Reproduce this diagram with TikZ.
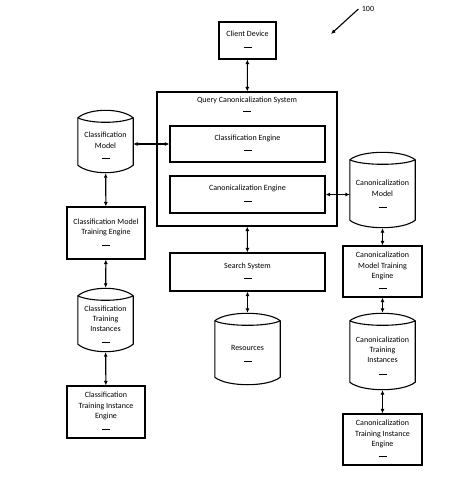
\documentclass[tikz,border=0pt]{standalone}
\usepackage{fontspec}
\setmainfont{Carlito}
\usetikzlibrary{arrows.meta,calc}
\newcommand{\refbar}{\rule[0.6ex]{8pt}{0.6pt}}
\newcommand{\topgap}{\rule{0pt}{16pt}}

\begin{document}
\begin{tikzpicture}[x=1pt, y=-1pt, >={Latex[length=4.5pt,width=4pt]},
    font=\fontsize{8}{10.2}\selectfont,
    box/.style={draw, line width=1.1pt, align=center, inner sep=0pt},
    store/.style={align=center, inner sep=0pt},
    link/.style={<->, line width=1.1pt}]
          \useasboundingbox (0,0) rectangle (474,479);

          % figure number
          \node (fig) at (368,9) {100};
          \coordinate (figtip) at (331,34);
          \draw[->, line width=1.1pt] (fig.west) -- (figtip);

          % middle column
          \node[box, minimum width=57pt, minimum height=37pt] (client) at (247.5,40.5) {Client Device\\[3pt]\refbar};
          \node[box, minimum width=180pt, minimum height=134pt] (qcs) at (247,159) {};
          \node[anchor=north, align=center, inner sep=0pt] (qcstitle) at ($(qcs.north)+(0,5)$) {Query Canonicalization System\\[1pt]\refbar};
          \node[box, minimum width=155pt, minimum height=36pt] (ceng) at (247.5,144) {Classification Engine\\[3pt]\refbar};
          \node[box, minimum width=155pt, minimum height=37pt] (keng) at (247.5,194.5) {Canonicalization Engine\\[3pt]\refbar};
          \node[box, minimum width=155pt, minimum height=38pt] (search) at (247.5,272) {Search System\\[3pt]\refbar};
          \node[store, minimum width=65pt, minimum height=72pt] (res) at (247.5,349) {\topgap Resources\\[3pt]\refbar};

          % left column: classification
          \node[store, minimum width=55pt, minimum height=63pt] (cmodel) at (105.5,141.5) {\topgap Classification\\Model\\[3pt]\refbar};
          \node[box, minimum width=78pt, minimum height=52pt] (cmte) at (106,233) {Classification Model\\Training Engine\\[3pt]\refbar};
          \node[store, minimum width=55pt, minimum height=64pt] (cti) at (105.5,320) {\topgap Classification\\Training\\Instances\\[3pt]\refbar};
          \node[box, minimum width=78pt, minimum height=52pt] (ctie) at (106,412) {Classification\\Training Instance\\Engine\\[3pt]\refbar};

          % right column: canonicalization
          \node[store, minimum width=65pt, minimum height=76pt] (kmodel) at (382.5,190) {\topgap Canonicalization\\Model\\[4pt]\refbar};
          \node[box, minimum width=79pt, minimum height=51pt] (kmte) at (382.5,271.5) {Canonicalization\\Model Training\\Engine\\[2pt]\refbar};
          \node[store, minimum width=65pt, minimum height=77pt] (kti) at (382.5,351.5) {\topgap Canonicalization\\Training\\Instances\\[4pt]\refbar};
          \node[box, minimum width=79pt, minimum height=51pt] (ktie) at (382.5,439.5) {Canonicalization\\Training Instance\\Engine\\[2pt]\refbar};

          % cylinder outlines for the data stores
          \foreach \n in {cmodel,cti,res,kmodel,kti}{
            \draw[line width=1.1pt] ($(\n.north west)+(0,8)$)
                .. controls ($(\n.north west)+(12,-2)$) and ($(\n.north east)+(-12,-2)$) .. ($(\n.north east)+(0,8)$)
                -- ($(\n.south east)+(0,-8)$)
                .. controls ($(\n.south east)+(-12,2)$) and ($(\n.south west)+(12,2)$) .. ($(\n.south west)+(0,-8)$)
                -- cycle;
            \draw[line width=1.1pt] ($(\n.north west)+(0,8)$)
                .. controls ($(\n.north west)+(12,14)$) and ($(\n.north east)+(-12,14)$) .. ($(\n.north east)+(0,8)$);
          }

          % connectors
          \draw[link] (client) -- (qcs);
          \draw[link] (qcs) -- (search);
          \draw[link] (search) -- (res);
          \draw[link] (ceng.west -| cmodel.east) -- (ceng.west);
          \draw[link] (keng.east) -- (keng.east -| kmodel.west);
          \draw[link] (cmodel) -- (cmte);
          \draw[link] (cmte) -- (cti);
          \draw[link] (cti) -- (ctie);
          \draw[link] (kmodel) -- (kmte);
          \draw[link] (kmte) -- (kti);
          \draw[link] (kti) -- (ktie);
        \end{tikzpicture}
\end{document}
